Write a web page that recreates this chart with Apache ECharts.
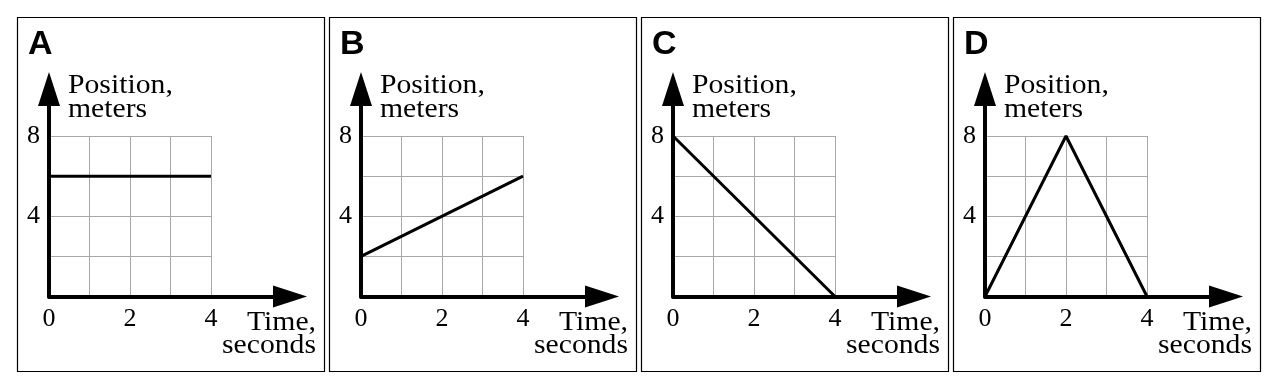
<!DOCTYPE html>
<html>
<head>
<meta charset="utf-8">
<style>html,body{margin:0;padding:0;background:#fff;}#c{width:1274px;height:383px;}</style>
<script src="https://cdn.jsdelivr.net/npm/echarts@6/dist/echarts.min.js"></script>
</head>
<body>
<div id="c"></div>
<script>
// ---- data ----
const panelLabels = ['A', 'B', 'C', 'D'];
const seriesA = [[0, 6], [4, 6]];
const seriesB = [[0, 2], [4, 6]];
const seriesC = [[0, 8], [4, 0]];
const seriesD = [[0, 0], [2, 8], [4, 0]];
const panelSeries = [seriesA, seriesB, seriesC, seriesD];
const xTickLabels = [0, 2, 4];
const yTickLabels = [4, 8];
const xMax = 4, yMax = 8;
const yAxisName = 'Position,\nmeters';
const xAxisName = 'Time,\nseconds';

// ---- layout ----
const PANEL_STEP = 312;
const SERIF = '"Liberation Serif", "Times New Roman", serif';
const grids = [], xAxes = [], yAxes = [], series = [], graphics = [];

panelSeries.forEach((data, i) => {
  const dx = PANEL_STEP * i;
  grids.push({ left: 49 + dx, top: 136, width: 162, height: 160.5 });
  grids.push({ left: 49 + dx, top: 89, width: 241, height: 207.5 });
  const g = 2 * i;
  xAxes.push({
    gridIndex: g, type: 'value', min: 0, max: xMax, interval: 1,
    axisLine: { show: false }, axisTick: { show: false },
    splitLine: { show: true, lineStyle: { color: '#a8a8a8', width: 1 } },
    axisLabel: {
      margin: 10, color: '#000', fontFamily: SERIF, fontSize: 26,
      formatter: v => xTickLabels.includes(v) ? String(v) : ''
    }
  });
  yAxes.push({
    gridIndex: g, type: 'value', min: 0, max: yMax, interval: 2,
    axisLine: { show: false }, axisTick: { show: false },
    splitLine: { show: true, lineStyle: { color: '#a8a8a8', width: 1 } },
    axisLabel: {
      margin: 9, color: '#000', fontFamily: SERIF, fontSize: 26, padding: [6, 0, 0, 0],
      formatter: v => yTickLabels.includes(v) ? String(v) : ''
    }
  });
  xAxes.push({
    gridIndex: g + 1, type: 'value', min: 0, max: 1,
    axisLine: { show: true, symbol: ['none', 'triangle'], symbolSize: [22, 34],
      lineStyle: { color: '#000', width: 4 } },
    axisTick: { show: false }, axisLabel: { show: false }, splitLine: { show: false }
  });
  yAxes.push({
    gridIndex: g + 1, type: 'value', min: 0, max: 1,
    axisLine: { show: true, symbol: ['none', 'triangle'], symbolSize: [22, 34],
      lineStyle: { color: '#000', width: 4 } },
    axisTick: { show: false }, axisLabel: { show: false }, splitLine: { show: false }
  });
  series.push({
    type: 'line', xAxisIndex: g, yAxisIndex: g, data: data,
    symbol: 'none', clip: false, z: 5,
    lineStyle: { color: '#000', width: 3 }
  });
  graphics.push({
    type: 'rect', shape: { x: 17.5 + dx, y: 17.5, width: 307, height: 354 },
    style: { fill: 'none', stroke: '#000', lineWidth: 1.2 }, z: 0
  });
  graphics.push({
    type: 'text', x: 28 + dx, y: 28,
    style: { text: panelLabels[i], font: 'bold 34px "Liberation Sans", Arial, sans-serif',
      fill: '#000', textAlign: 'left', textVerticalAlign: 'top' }
  });
  graphics.push({
    type: 'text', x: 68 + dx, y: 74, scaleX: 1.1,
    style: { text: yAxisName, font: '27px ' + SERIF, lineHeight: 24,
      fill: '#000', textAlign: 'left', textVerticalAlign: 'top' }
  });
  graphics.push({
    type: 'text', x: 316 + dx, y: 311, scaleX: 1.1,
    style: { text: xAxisName, font: '27px ' + SERIF, lineHeight: 23,
      fill: '#000', textAlign: 'right', textVerticalAlign: 'top' }
  });
});

const chart = echarts.init(document.getElementById('c'), null, { renderer: 'canvas' });
chart.setOption({
  animation: false,
  backgroundColor: '#fff',
  grid: grids, xAxis: xAxes, yAxis: yAxes, series: series, graphic: graphics
});
</script>
</body>
</html>
